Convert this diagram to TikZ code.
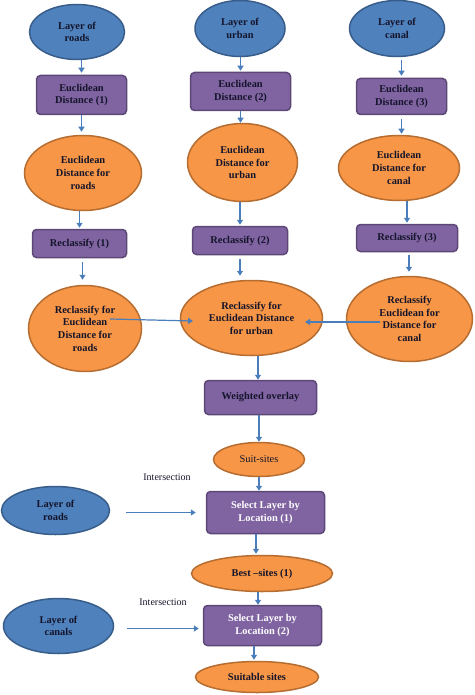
\documentclass[tikz,border=0pt]{standalone}
\usepackage{fontspec}
\setmainfont{Liberation Serif}
\usetikzlibrary{shapes.geometric,arrows.meta,calc}
\definecolor{bfill}{HTML}{4F81BD}
\definecolor{bdraw}{HTML}{385D8A}
\definecolor{pfill}{HTML}{8064A2}
\definecolor{pdraw}{HTML}{5C4776}
\definecolor{ofill}{HTML}{F79646}
\definecolor{odraw}{HTML}{B66D31}
\definecolor{arr}{HTML}{4A7EBB}
\definecolor{txt}{HTML}{14142A}
\begin{document}
\begin{tikzpicture}[x=1pt,y=-1pt,
 every node/.style={font=\fontsize{10.4}{12.6}\selectfont\bfseries, text=txt, align=center, inner sep=0pt},
 blueell/.style={ellipse, fill=bfill, draw=bdraw, line width=1.5pt},
 orell/.style={ellipse, fill=ofill, draw=odraw, line width=1.5pt},
 pbox/.style={rectangle, rounded corners=4pt, fill=pfill, draw=pdraw, line width=1.5pt},
 lbl/.style={font=\fontsize{10}{12}\selectfont\mdseries},
 arrow/.style={draw=arr, line width=1.2pt, -{Triangle[length=5pt,width=6pt]}},
]
\useasboundingbox (0,0) rectangle (474,695);
% top row
\node[blueell, minimum width=95pt, minimum height=55pt] (lr) at (77,32) {Layer of\\roads};
\node[blueell, minimum width=90pt, minimum height=56pt] (lu) at (240,28.5) {Layer of\\urban};
\node[blueell, minimum width=95pt, minimum height=56pt] (lcn) at (397,28.5) {Layer of\\canal};
\node[pbox, minimum width=90pt, minimum height=39pt] (ed1) at (81.5,95) {Euclidean\\Distance (1)};
\node[pbox, minimum width=100pt, minimum height=38pt] (ed2) at (240.5,91.5) {Euclidean\\Distance (2)};
\node[pbox, minimum width=90pt, minimum height=36pt] (ed3) at (401.5,96.5) {Euclidean\\Distance (3)};
\node[orell, minimum width=117pt, minimum height=75pt] (oe1) at (83,173) {Euclidean\\Distance for\\roads};
\node[orell, minimum width=110pt, minimum height=78pt] (oe2) at (242.5,162.5) {Euclidean\\Distance for\\urban};
\node[orell, minimum width=121pt, minimum height=65pt] (oe3) at (399,168) {Euclidean\\Distance for\\canal};
\node[pbox, minimum width=94pt, minimum height=28pt] (rc1) at (79.5,243.5) {Reclassify (1)};
\node[pbox, minimum width=95pt, minimum height=28pt] (rc2) at (240,240.5) {Reclassify (2)};
\node[pbox, minimum width=101pt, minimum height=27pt] (rc3) at (407,238) {Reclassify (3)};
\node[orell, minimum width=113pt, minimum height=86pt] (or1) at (85,328.5) {Reclassify for\\Euclidean\\Distance for\\roads};
\node[orell, minimum width=142pt, minimum height=75pt] (or2) at (251.5,318) {Reclassify for\\Euclidean Distance\\for urban};
\node[orell, minimum width=126pt, minimum height=85pt] (or3) at (409.5,319) {Reclassify\\Euclidean for\\Distance for\\canal};
\node[pbox, minimum width=112pt, minimum height=34pt] (wo) at (260.5,397.5) {Weighted overlay};
\node[orell, minimum width=91pt, minimum height=34pt] (ss) at (259,459.5) {\mdseries Suit-sites};
\node[pbox, minimum width=118pt, minimum height=42pt, text=white] (sel1) at (265.5,512.5) {Select Layer by\\Location (1)};
\node[blueell, minimum width=108pt, minimum height=48pt] (lr2) at (55.5,510.5) {Layer of\\roads};
\node[lbl] (int1) at (167,477) {Intersection};
\node[orell, minimum width=141pt, minimum height=36pt] (bs) at (262,573.5) {Best –sites (1)};
\node[pbox, minimum width=118pt, minimum height=40pt, text=white] (sel2) at (262.5,625.5) {Select Layer by\\Location (2)};
\node[blueell, minimum width=110pt, minimum height=55pt] (lc2) at (58.5,626) {Layer of\\canals};
\node[lbl] (int2) at (163,602) {Intersection};
\node[orell, minimum width=123pt, minimum height=31pt] (st) at (257,677) {Suitable sites};
% arrows
\draw[arrow, shorten >=2pt] (lr.south -| ed1) -- (ed1.north);
\draw[arrow, shorten >=3pt] (ed1.south) -- (ed1.south |- oe1.north);
\draw[arrow, shorten >=1pt] (lu.south -| ed2) -- (ed2.north);
\draw[arrow] (ed2.south) -- (ed2.south |- oe2.north);
\draw[arrow, shorten <=3pt, shorten >=2pt] (lcn.south -| ed3) -- (ed3.north);
\draw[arrow, shorten <=4pt, shorten >=1pt] (ed3.south) -- (ed3.south |- oe3.north);
\draw[arrow, shorten >=1pt] (oe1.south -| rc1) -- (rc1.north);
\draw[arrow, shorten >=1pt] (oe2.south -| rc2) -- (rc2.north);
\draw[arrow, shorten >=1pt] (oe3.south -| rc3) -- (rc3.north);
\draw[arrow, shorten <=4pt, shorten >=5pt] ([xshift=3pt]rc1.south) -- ([xshift=3pt]rc1.south |- or1.north);
\draw[arrow, shorten <=4pt, shorten >=4pt] (rc2.south) -- (rc2.south |- or2.north);
\draw[arrow, shorten <=3pt, shorten >=4pt] ([xshift=2pt]rc3.south) -- ([xshift=2pt]rc3.south |- or3.north);
\coordinate (la) at ($(or1.center)+(25,-9.5)$);
\coordinate (lb) at ($(or2.center)+(-58.5,3)$);
\coordinate (ra) at ($(or3.center)+(-29.5,3)$);
\coordinate (rb) at ($(or2.center)+(53.5,4)$);
\draw[arrow] (la) -- (lb);
\draw[arrow] (ra) -- (rb);
\draw[arrow] ([xshift=6.5pt]or2.south) -- (wo.north -| {$(or2.south)+(6.5,0)$});
\draw[arrow] ([xshift=-1.5pt]wo.south) -- (ss.north);
\draw[arrow] (ss.south) -- ([xshift=-6.5pt]sel1.north);
\draw[arrow, shorten >=1pt] ([xshift=-9.5pt]sel1.south) -- (bs.north -| {$(sel1.south)+(-9.5,0)$});
\draw[arrow] ([xshift=-4pt]bs.south) -- (sel2.north -| {$(bs.south)+(-4,0)$});
\draw[arrow, shorten >=1pt] ([xshift=-8.5pt]sel2.south) -- (st.north -| {$(sel2.south)+(-8.5,0)$});
\draw[arrow, shorten <=16pt, shorten >=10pt] (lr2.east |- sel1.west) -- (sel1.west);
\draw[arrow, shorten <=13pt, shorten >=4pt] ([yshift=-3pt]lc2.east |- sel2.west) -- ([yshift=-3pt]sel2.west);
\end{tikzpicture}
\end{document}
